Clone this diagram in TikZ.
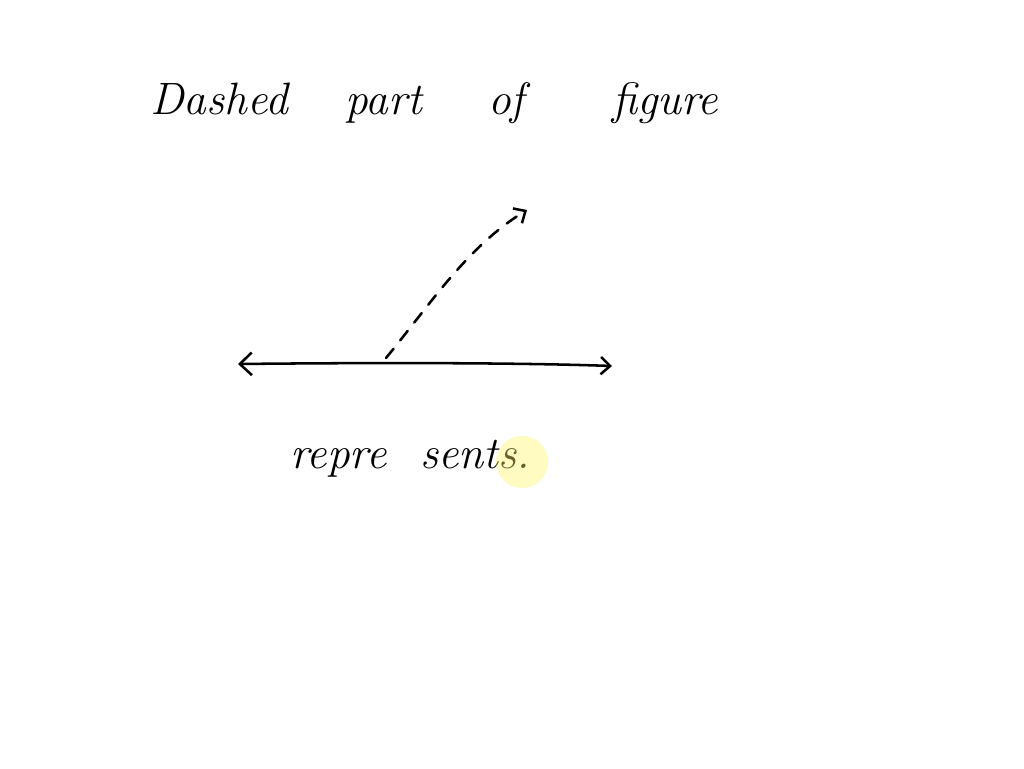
\documentclass[tikz,border=0pt]{standalone}
\usetikzlibrary{arrows.meta}
\begin{document}
\begin{tikzpicture}[x=0.75pt,y=-0.75pt,
  ink/.style={line width=1.9pt,line cap=round,line join=round,black},
  word/.style={inner sep=0pt,anchor=base west,font=\fontsize{34}{40}\selectfont\itshape},
  tip/.style={-{Straight Barb[length=7pt,width=13pt,line width=1.9pt]}}]
\useasboundingbox[fill=white] (0,0) rectangle (1024,768);
% title words
\node[word] (w1) at (150,114) {Dashed};
\node[word] (w2) at (345,114) {part};
\node[word] (w3) at (488,114) {of};
\node[word] (w4) at (612,114) {figure};
% line with two arrowheads
\coordinate (L) at (238,364);
\coordinate (R) at (612,366);
\coordinate (V) at (386,358);
\coordinate (T) at (527,210);
\draw[ink,{Straight Barb[length=9pt,width=17pt,line width=1.9pt]}-{Straight Barb[length=7pt,width=13pt,line width=1.9pt]}]
  (L) .. controls (330,363) and (500,362) .. (R);
% dashed ray
\draw[ink,dashed,dash pattern=on 9pt off 8pt,tip] (V) .. controls (432,302) and (468,246) .. (T);
% caption
\node[word] (c1) at (290,468) {repre};
\node[word] (c2) at (420,468) {sents.};
% cursor highlight
\fill[yellow!60,opacity=0.4] (522,462) circle (26);
\end{tikzpicture}
\end{document}
